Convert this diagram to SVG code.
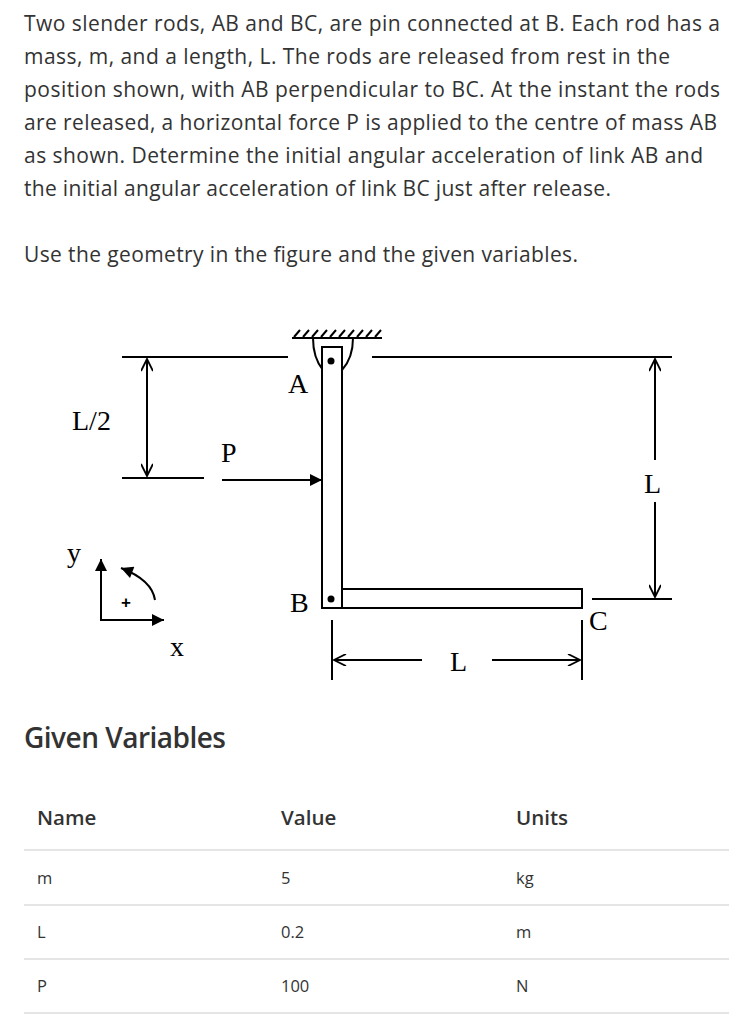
<svg xmlns="http://www.w3.org/2000/svg" width="749" height="1024" viewBox="0 0 749 1024">
<defs>
<marker id="ah" viewBox="0 0 10 10" refX="10" refY="5" markerWidth="14" markerHeight="12" markerUnits="userSpaceOnUse" orient="auto"><path d="M0,0 L10,5 L0,10 z" fill="#000"/></marker>
<marker id="ao" viewBox="0 0 10 10" refX="10" refY="5" markerWidth="14" markerHeight="12" markerUnits="userSpaceOnUse" orient="auto"><path d="M0,0 L10,5 L0,10" fill="none" stroke="#000" stroke-width="1.5"/></marker>
</defs>
<style>
.p{font-family:"Open Sans",sans-serif;font-size:21px;fill:#333}
.gv{font-family:"Open Sans",sans-serif;font-size:28px;font-weight:600;fill:#333}
.t{font-family:"Open Sans",sans-serif;font-size:16.5px;fill:#333}
.h{font-family:"Open Sans",sans-serif;font-size:20.5px;font-weight:600;fill:#333}
.s{font-family:"Liberation Serif",serif;font-size:28px;fill:#000}
.l{stroke:#000;stroke-width:2;fill:none}
.r{stroke:#000;stroke-width:2;fill:#fff}
.g{stroke:#ddd;stroke-width:1.5}
</style>
<rect width="749" height="1024" fill="#fff"/>
<g id="text">
<text class="p" x="24" y="31" textLength="696" lengthAdjust="spacing">Two slender rods, AB and BC, are pin connected at B.  Each rod has a</text>
<text class="p" x="24" y="64" textLength="646" lengthAdjust="spacing">mass, m, and a length, L.  The rods are released from rest in the</text>
<text class="p" x="24" y="97" textLength="696" lengthAdjust="spacing">position shown, with AB perpendicular to BC.  At the instant the rods</text>
<text class="p" x="24" y="130" textLength="693" lengthAdjust="spacing">are released, a horizontal force P is applied to the centre of mass AB</text>
<text class="p" x="24" y="163" textLength="679" lengthAdjust="spacing">as shown.  Determine the initial angular acceleration of link AB and</text>
<text class="p" x="24" y="196" textLength="587" lengthAdjust="spacing">the initial angular acceleration of link BC just after release.</text>
<text class="p" x="24" y="262" textLength="554" lengthAdjust="spacing">Use the geometry in the figure and the given variables.</text>
</g>
<g id="support">
<line class="l" x1="292" y1="338" x2="382" y2="338"/>
<path class="l" stroke-width="1.5" d="M294,337 l6,-7 M303,337 l6,-7 M312,337 l6,-7 M321,337 l6,-7 M330,337 l6,-7 M339,337 l6,-7 M348,337 l6,-7 M357,337 l6,-7 M366,337 l6,-7 M375,337 l6,-7"/>
<path class="l" stroke-width="1.5" d="M313,338 Q313,358 323,370 M353,338 Q353,358 342,370"/>
</g>
<g id="rodAB">
<rect class="r" x="322" y="347" width="20" height="261"/>
<circle cx="331" cy="361" r="3.5"/>
<text class="s" x="288" y="393">A</text>
</g>
<g id="rodBC">
<rect class="r" x="342" y="589" width="240" height="19"/>
<line class="l" x1="322" y1="608" x2="342" y2="608"/>
<circle cx="331" cy="599" r="3.5"/>
<text class="s" x="290" y="612">B</text>
<text class="s" x="589" y="630">C</text>
</g>
<g id="connectors">
<line class="l" x1="122" y1="357" x2="288" y2="357" stroke-width="1.5"/>
<line class="l" x1="372" y1="357" x2="672" y2="357" stroke-width="1.5"/>
<line class="l" x1="122" y1="478" x2="204" y2="478" stroke-width="1.5"/>
<line class="l" x1="147" y1="418" x2="147" y2="359" stroke-width="1.5" marker-end="url(#ao)"/>
<line class="l" x1="147" y1="418" x2="147" y2="476" stroke-width="1.5" marker-end="url(#ao)"/>
<line class="l" x1="222" y1="480" x2="322" y2="480" stroke-width="2.5" marker-end="url(#ah)"/>
<line class="l" x1="655" y1="460" x2="655" y2="359" stroke-width="1.5" marker-end="url(#ao)"/>
<line class="l" x1="655" y1="502" x2="655" y2="597" stroke-width="1.5" marker-end="url(#ao)"/>
<line class="l" x1="592" y1="599" x2="672" y2="599" stroke-width="1.5"/>
<line class="l" x1="332" y1="620" x2="332" y2="680" stroke-width="1.5"/>
<line class="l" x1="582" y1="620" x2="582" y2="680" stroke-width="1.5"/>
<line class="l" x1="422" y1="660" x2="334" y2="660" stroke-width="1.5" marker-end="url(#ao)"/>
<line class="l" x1="492" y1="660" x2="580" y2="660" stroke-width="1.5" marker-end="url(#ao)"/>
<line class="l" x1="101" y1="621" x2="101" y2="559" stroke-width="2.5" marker-end="url(#ah)"/>
<line class="l" x1="100" y1="620" x2="164" y2="620" stroke-width="2.5" marker-end="url(#ah)"/>
<path class="l" stroke-width="2.5" d="M155,600 Q152,580 121,568" marker-end="url(#ah)"/>
</g>
<g id="labels">
<text class="s" x="72" y="430">L/2</text>
<text class="s" x="221" y="462">P</text>
<text class="s" x="644" y="493">L</text>
<text class="s" x="450" y="671">L</text>
<text class="s" x="67" y="562">y</text>
<text class="s" x="170" y="656">x</text>
<text font-family="Liberation Sans,sans-serif" font-size="17" font-weight="bold" x="121" y="608">+</text>
</g>
<g id="table">
<text class="gv" x="24" y="748" textLength="202" lengthAdjust="spacing">Given Variables</text>
<text class="h" x="37" y="825">Name</text>
<text class="h" x="281" y="825">Value</text>
<text class="h" x="516" y="825">Units</text>
<line class="g" x1="24" y1="850" x2="729" y2="850"/>
<line class="g" x1="24" y1="905" x2="729" y2="905"/>
<line class="g" x1="24" y1="959" x2="729" y2="959"/>
<line class="g" x1="24" y1="1013" x2="729" y2="1013"/>
<text class="t" x="37" y="884">m</text><text class="t" x="281" y="884">5</text><text class="t" x="516" y="884">kg</text>
<text class="t" x="37" y="938">L</text><text class="t" x="281" y="938">0.2</text><text class="t" x="516" y="938">m</text>
<text class="t" x="37" y="992">P</text><text class="t" x="281" y="992">100</text><text class="t" x="516" y="992">N</text>
</g>
</svg>
